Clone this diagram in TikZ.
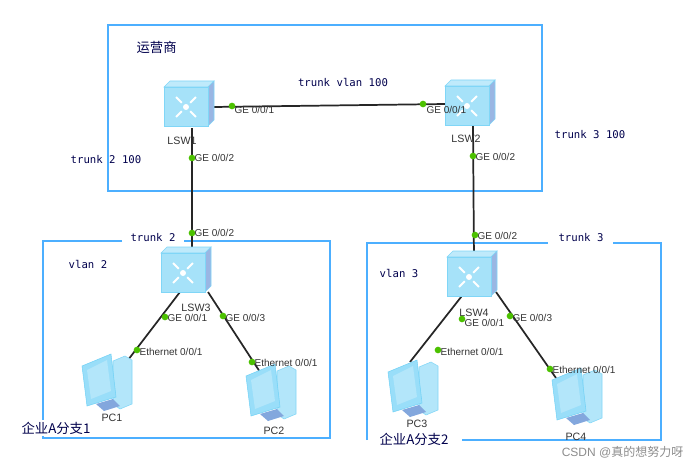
\documentclass[tikz,border=0pt]{standalone}
\usepackage{fontspec}
\setmainfont{Liberation Sans}
\newfontfamily\cjk{Noto Sans CJK SC}
\newfontfamily\mono{DejaVu Sans Mono}
\begin{document}
\begin{tikzpicture}[x=0.75pt,y=-0.75pt,
  box/.style={draw=blue!45!cyan!70!white,line width=0.9pt},
  lnk/.style={line width=1.3pt,black!85},
  dot/.style={circle,fill=green!65!black!70!yellow,inner sep=0pt,minimum size=5pt},
  ifl/.style={font=\fontsize{7.5}{8}\selectfont,inner sep=1pt,text=black!80},
  mlab/.style={font=\mono\fontsize{8}{9}\selectfont,text=blue!30!black,inner sep=1pt},
  clab/.style={font=\cjk\fontsize{10}{11}\selectfont,text=blue!30!black,inner sep=1pt},
  nlab/.style={font=\fontsize{8}{9}\selectfont,text=black!80,inner sep=1pt},
  sw/.pic={
    \fill[cyan!25,draw=cyan!50] (-25,-17) -- (-19,-23) -- (25,-23) -- (19,-17) -- cycle;
    \fill[cyan!50!blue!40,draw=cyan!50] (19,-17) -- (25,-23) -- (25,16) -- (19,22) -- cycle;
    \fill[cyan!35,draw=cyan!50] (-25,-17) rectangle (19,22);
    \foreach \a in {45,135,225,315}{\draw[white,line width=1.5pt] ([shift={(-3,3)}]\a:6) -- ([shift={(-3,3)}]\a:14);}
    \fill[white] (-3,3) circle (3);
  },
  pc/.pic={
    \fill[cyan!30,draw=cyan!50] (7,-19) -- (19,-24) -- (26,-20) -- (26,24) -- (14,29) -- (7,24) -- cycle;
    \fill[cyan!40,draw=cyan!55] (-24,-14) -- (5,-26) -- (10,17) -- (-19,26) -- cycle;
    \fill[white!70!cyan] (-19,-10) -- (1,-20) -- (5,11) -- (-15,19) -- cycle;
    \fill[cyan!50!blue!50] (-10,24) -- (7,19) -- (14,26) -- (-2,31) -- cycle;
  }]
\useasboundingbox (0,0) rectangle (692,467);
% boxes
\draw[box] (108,25) rectangle (542,191);
\draw[box] (122,241) -- (43,241) -- (43,438) -- (330,438) -- (330,241) -- (184,241);
\draw[box] (367,440) -- (367,243) -- (548,243); \draw[box] (613,243) -- (661,243) -- (661,440) -- (462,440);
% labels
\node[clab,anchor=west] (isp) at (135,47) {运营商};
\node[mlab] (t100) at (343,82) {trunk vlan 100};
\node[mlab] (t2100) at (106,160) {trunk 2 100};
\node[mlab] (t3100) at (590,135) {trunk 3 100};
\node[mlab] (t2) at (153,238) {trunk 2};
\node[mlab] (t3) at (581,238) {trunk 3};
\node[mlab] (v2) at (88,264) {vlan 2};
\node[mlab] (v3) at (399,273) {vlan 3};
\node[clab,fill=white,anchor=west] (b1) at (20,428) {企业A分支1};
\node[clab,fill=white,anchor=west] (b2) at (378,439) {企业A分支2};
% devices
\coordinate (s1) at (189,104); \coordinate (s2) at (470,103);
\coordinate (s3) at (186,270); \coordinate (s4) at (472,274);
\coordinate (p1) at (106,380); \coordinate (p2) at (270,390);
\coordinate (p3) at (412,386); \coordinate (p4) at (576,394);
% links
\draw[lnk] (213,107) -- (446,104);
\draw[lnk] (192,128) -- (192,262);
\draw[lnk] (473,124) -- (474,262);
\draw[lnk] (180,292) -- (128,360);
\draw[lnk] (208,292) -- (260,372);
\draw[lnk] (465,292) -- (410,362);
\draw[lnk] (496,292) -- (556,378);
\pic at (s1) {sw}; \pic at (s2) {sw}; \pic at (s3) {sw}; \pic at (s4) {sw};
\pic at (p1) {pc}; \pic at (p2) {pc}; \pic at (p3) {pc}; \pic at (p4) {pc};
\node[nlab] (n1) at (182,141) {LSW1};
\node[nlab] (n2) at (466,139) {LSW2};
\node[nlab] (n3) at (196,308) {LSW3};
\node[nlab] (n4) at (474,313) {LSW4};
\node[nlab] (n5) at (112,418) {PC1};
\node[nlab] (n6) at (274,431) {PC2};
\node[nlab] (n7) at (417,424) {PC3};
\node[nlab] (n8) at (576,437) {PC4};
% ports
\foreach \x/\y/\t in {232/110/{GE 0/0/1}, 424/110/{GE 0/0/1}, 192/158/{GE 0/0/2}, 473/157/{GE 0/0/2},
  192/233/{GE 0/0/2}, 475/236/{GE 0/0/2}, 165/318/{GE 0/0/1}, 223/318/{GE 0/0/3},
  137/352/{Ethernet 0/0/1}, 252/363/{Ethernet 0/0/1}, 438/352/{Ethernet 0/0/1}, 550/370/{Ethernet 0/0/1},
  462/323/{GE 0/0/1}, 510/318/{GE 0/0/3}}{
  \node[ifl,anchor=west] at (\x+1,\y) {\t};}
\foreach \x/\y in {232/106,423/104,192/158,473/156,192/233,475/235,165/317,223/316,137/350,252/362,438/350,550/369,462/319,510/316}{
  \node[dot] at (\x,\y) {};}
\node[font=\fontsize{9}{10}\selectfont,text=black!45,anchor=east] (wm) at (688,452) {CSDN @{\cjk 真的想努力呀}};
\end{tikzpicture}
\end{document}
